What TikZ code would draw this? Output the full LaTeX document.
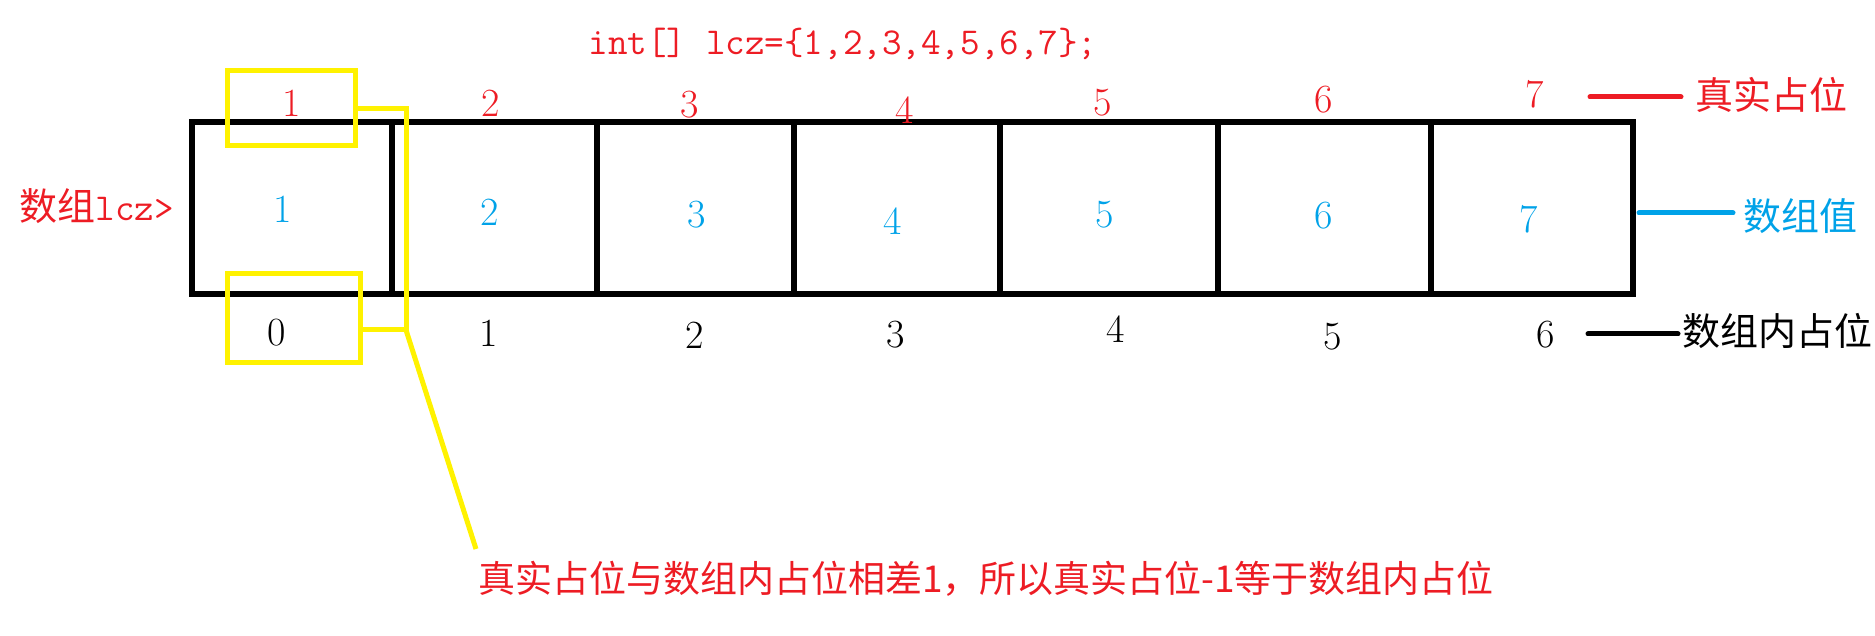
\documentclass[tikz,border=0pt]{standalone}
\usepackage{fontspec}
\newfontfamily\cjk{Noto Sans CJK SC}
\definecolor{paintred}{RGB}{237,28,36}
\definecolor{paintblue}{RGB}{0,162,232}
\definecolor{paintyellow}{RGB}{255,242,0}

\begin{document}
\begin{tikzpicture}[x=1pt, y=-1pt,
			cell/.style={draw, line width=5.5pt, minimum height=172pt, inner sep=0pt},
			hlbox/.style={draw=paintyellow, line width=5pt, inner sep=0pt},
			hlline/.style={draw=paintyellow, line width=5pt},
			digit/.style={font=\fontsize{40}{48}\selectfont, inner sep=0pt},
			realnum/.style={digit, text=paintred},
			valnum/.style={digit, text=paintblue},
			idxnum/.style={digit, text=black},
			cjktext/.style={font=\cjk\fontsize{38}{46}\selectfont, inner sep=0pt},
			legline/.style={line width=5pt, line cap=round}]
	\useasboundingbox (0,0) rectangle (1875,636);
	% the array cells
	\node[cell, minimum width=200pt] (box1) at (292,208) {};
	\node[cell, minimum width=205pt] (box2) at (494.5,208) {};
	\node[cell, minimum width=197pt] (box3) at (695.5,208) {};
	\node[cell, minimum width=206pt] (box4) at (897,208) {};
	\node[cell, minimum width=218pt] (box5) at (1109,208) {};
	\node[cell, minimum width=213pt] (box6) at (1324.5,208) {};
	\node[cell, minimum width=202pt] (box7) at (1532,208) {};
	% declaration
	\node[font=\ttfamily\fontsize{38}{46}\selectfont, text=paintred, inner sep=0pt]
		(decl) at (843,44) {int[] lcz=\{1,2,3,4,5,6,7\};};
	\node[cjktext, text=paintred] (arrname) at (97,206) {数组{\ttfamily lcz>}};
	% real positions
	\node[realnum] (r1) at (292,103) {1};
	\node[realnum] (r2) at (491,103) {2};
	\node[realnum] (r3) at (690,105) {3};
	\node[realnum] (r4) at (905,110) {4};
	\node[realnum] (r5) at (1103,103) {5};
	\node[realnum] (r6) at (1324,100) {6};
	\node[realnum] (r7) at (1535,94) {7};
	% values
	\node[valnum] (v1) at (283,209) {1};
	\node[valnum] (v2) at (490,212) {2};
	\node[valnum] (v3) at (697,215) {3};
	\node[valnum] (v4) at (893,221) {4};
	\node[valnum] (v5) at (1105,215) {5};
	\node[valnum] (v6) at (1324,216) {6};
	\node[valnum] (v7) at (1529,219) {7};
	% indices
	\node[idxnum] (i0) at (277,333) {0};
	\node[idxnum] (i1) at (489,333) {1};
	\node[idxnum] (i2) at (695,335) {2};
	\node[idxnum] (i3) at (896,335) {3};
	\node[idxnum] (i4) at (1116,329) {4};
	\node[idxnum] (i5) at (1333,337) {5};
	\node[idxnum] (i6) at (1546,335) {6};
	% legend
	\node[cjktext, text=paintred, anchor=west, inner xsep=14pt] (reallab) at (1681,95) {真实占位};
	\node[cjktext, text=paintblue, anchor=west, inner xsep=10pt] (vallab) at (1733,216) {数组值};
	\node[cjktext, text=black, anchor=west, inner xsep=4pt] (idxlab) at (1678,331) {数组内占位};
	\coordinate (realstart) at (1590,97);
	\coordinate (valstart) at (1639,213);
	\coordinate (idxstart) at (1588,334);
	\draw[legline, paintred] (realstart) -- (realstart -| reallab.west);
	\draw[legline, paintblue] (valstart) -- (valstart -| vallab.west);
	\draw[legline, black] (idxstart) -- (idxstart -| idxlab.west);
	% highlight of the first cell
	\node[hlbox, minimum width=128pt, minimum height=75pt] (hltop) at (291,108.5) {};
	\node[hlbox, minimum width=133pt, minimum height=89pt] (hlbot) at (293.5,318.5) {};
	\coordinate (hlcorner) at (406,330);
	\coordinate (hltip) at (476,549);
	\draw[hlline] (hltop.east) -| (hlcorner) -- (hlcorner -| hlbot.east);
	\draw[hlline] (hlcorner) -- (hltip);
	\node[cjktext, text=paintred, font=\cjk\fontsize{37}{44}\selectfont] (note) at (986,579) {真实占位与数组内占位相差1，所以真实占位-1等于数组内占位};
\end{tikzpicture}
\end{document}
